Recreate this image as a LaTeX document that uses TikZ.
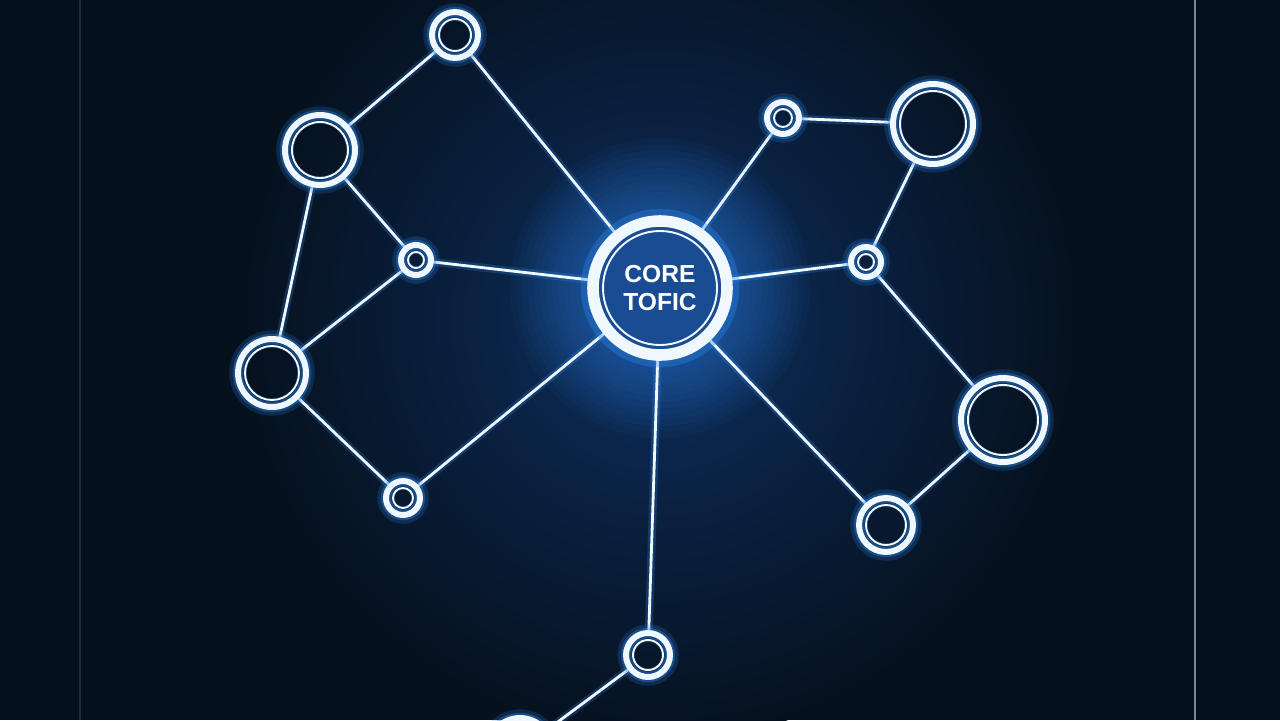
\documentclass[tikz,border=0pt]{standalone}
\usepackage{fontspec}
\setmainfont{Liberation Sans}
\definecolor{bg}{RGB}{6,17,30}
\definecolor{glowc}{RGB}{45,135,235}
\definecolor{corefill}{RGB}{26,76,148}
\definecolor{linec}{RGB}{240,248,255}
\definecolor{centerglow}{RGB}{13,46,94}
\definecolor{vlineA}{RGB}{30,45,60}
\definecolor{vlineB}{RGB}{115,135,155}
\pgfdeclarelayer{back}
\pgfdeclarelayer{edges}
\pgfsetlayers{back,edges,main}
\tikzset{
  ring/.style={circle, draw=linec, line width=3.4pt, inner sep=0pt, outer sep=0pt,
    preaction={draw=glowc, line width=10pt, draw opacity=0.2},
    preaction={draw=glowc, line width=6pt, draw opacity=0.35}},
  innerring/.style={draw=linec, line width=1.1pt},
  link/.style={draw=linec, line width=1.6pt,
    preaction={draw=glowc, line width=4.5pt, draw opacity=0.25}},
  vline/.style={line width=1.2pt},
}
\newcommand\ringnode[4]{%
  \node[ring, minimum size={#4*0.04cm-0.12cm}] (#1) at (#2,#3) {};
  \draw[innerring] (#2,#3) circle ({#4-10});
}
\begin{document}
\begin{tikzpicture}[x=0.02cm, y=-0.02cm]
\useasboundingbox (0,0) rectangle (1280,720);
\clip (0,0) rectangle (1280,720);
\begin{pgfonlayer}{back}
  \fill[bg] (0,0) rectangle (1280,720);
  \shade[inner color=centerglow, outer color=bg] (660,320) circle (420);
  \foreach \r in {78,84,...,150} {
    \fill[glowc, fill opacity=0.045] (660,288) circle (\r);
  }
  \draw[vline, vlineA] (80,0) -- (80,720);
  \draw[vline, vlineB] (1195,0) -- (1195,720);
\end{pgfonlayer}

\node[circle, fill=corefill, draw=linec, line width=6.6pt, inner sep=0pt, outer sep=0pt,
  minimum size={2.68cm}, text=white, align=center,
  font=\bfseries\fontsize{14}{16}\selectfont,
  preaction={draw=glowc, line width=14pt, draw opacity=0.35}] (core) at (660,288) {CORE\\TOFIC};
\draw[innerring] (660,288) circle (57);

\ringnode{A}{455}{35}{26}
\ringnode{B}{320}{150}{38}
\ringnode{C}{416}{260}{18}
\ringnode{D}{272}{373}{37}
\ringnode{E}{403}{498}{20}
\ringnode{F}{783}{118}{19}
\ringnode{G}{933}{124}{43}
\ringnode{H}{866}{262}{18}
\ringnode{I}{1003}{420}{45}
\ringnode{J}{886}{525}{30}
\ringnode{K}{648}{655}{25}
\ringnode{L}{520}{750}{35}

\begin{pgfonlayer}{edges}
  \draw[link] (A) -- (B);
  \draw[link] (A) -- (core);
  \draw[link] (B) -- (C);
  \draw[link] (B) -- (D);
  \draw[link] (C) -- (core);
  \draw[link] (C) -- (D);
  \draw[link] (D) -- (E);
  \draw[link] (E) -- (core);
  \draw[link] (F) -- (core);
  \draw[link] (F) -- (G);
  \draw[link] (G) -- (H);
  \draw[link] (H) -- (core);
  \draw[link] (H) -- (I);
  \draw[link] (I) -- (J);
  \draw[link] (J) -- (core);
  \draw[link] (K) -- (core);
  \draw[link] (K) -- (L);
\end{pgfonlayer}
\end{tikzpicture}
\end{document}
